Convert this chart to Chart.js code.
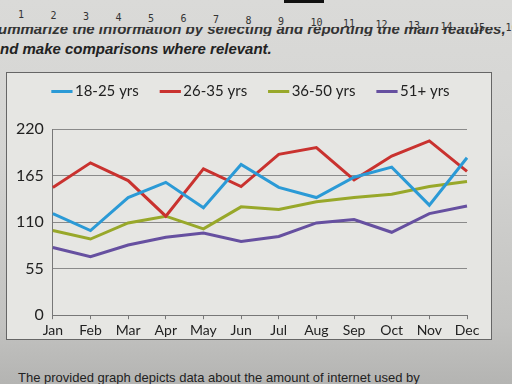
<!DOCTYPE html>
<html>
<head>
<meta charset="utf-8">
<script src="https://cdn.jsdelivr.net/npm/chart.js@4/dist/chart.umd.min.js"></script>
<style>
  html, body { margin:0; padding:0; }
  body {
    width:512px; height:384px; overflow:hidden; position:relative;
    background: linear-gradient(180deg, #dadad8 0%, #d4d4d2 40%, #c2c2c0 85%, #b4b4b2 100%);
    font-family: "Liberation Sans", Arial, sans-serif;
  }
  #ruler { position:absolute; left:0; top:6px; width:512px; height:18px; }
  #ruler span { position:absolute; font-size:10px; color:#333; font-family:"DejaVu Sans Mono", monospace; }
  #topbar { position:absolute; left:284px; top:0; width:40px; height:3px; background:#111; }
  .txt { position:absolute; font-weight:bold; font-style:italic; color:#222; white-space:nowrap; }
  #cut { position:absolute; left:0; top:27px; width:512px; height:9px; overflow:hidden; }
  #box {
    position:absolute; left:6px; top:72px; width:484px; height:266px;
    background:#e6e6e3; border:1px solid #666;
  }
  #c { position:absolute; left:0; top:0; }
  #bottom { position:absolute; left:18px; top:370px; font-size:13px; color:#222; white-space:nowrap; }
</style>
</head>
<body>
<div id="topbar"></div>
<div id="ruler"></div>
<div id="cut"><div class="txt" style="left:-2px; top:-7px; font-size:15px; color:#333;">ummarize the information by selecting and reporting the main features,</div></div>
<div class="txt" style="left:0px; top:40px; font-size:15px;">nd make comparisons where relevant.</div>
<div id="box"><canvas id="c" width="484" height="271"></canvas></div>
<div id="bottom">The provided graph depicts data about the amount of internet used by</div>
<script>
// ---- data ----
const months = ['Jan','Feb','Mar','Apr','May','Jun','Jul','Aug','Sep','Oct','Nov','Dec'];
const s18_25 = [120, 100, 139, 157, 127, 178, 151, 139, 163, 175, 130, 186];
const s26_35 = [151, 180, 159, 117, 173, 152, 190, 198, 160, 188, 206, 170];
const s36_50 = [100,  90, 109, 117, 102, 128, 125, 134, 139, 143, 152, 158];
const s51    = [ 80,  69,  83,  92,  97,  87,  93, 109, 113,  98, 120, 129];
const yTicks = [0, 55, 110, 165, 220];

// ruler numbers
const ruler = document.getElementById('ruler');
for (let i = 1; i <= 16; i++) {
  const s = document.createElement('span');
  s.textContent = i;
  s.style.left = (18 + (i - 1) * 32.5) + 'px';
  s.style.top = (2 + i * 0.9) + 'px';
  ruler.appendChild(s);
}

const mk = (label, data, color) => ({
  label, data, borderColor: color, backgroundColor: color,
  borderWidth: 3, pointRadius: 0, tension: 0, fill: false
});

// legend: push it up/right and leave a gap above the plot
const legendShift = {
  id: 'legendShift',
  beforeInit(chart) {
    const fit = chart.legend.fit;
    chart.legend.fit = function () { fit.bind(this)(); this.height += 3; };
  },
  afterLayout(chart) {
    const lg = chart.legend;
    lg.left += 16; lg.right += 16;
    lg.top -= 17; lg.bottom -= 17;
  }
};

const font = 'Lato, "Open Sans", sans-serif';

new Chart(document.getElementById('c'), {
  type: 'line',
  data: {
    labels: months,
    datasets: [
      mk('18-25 yrs', s18_25, '#2b9ad6'),
      mk('26-35 yrs', s26_35, '#c9322f'),
      mk('36-50 yrs', s36_50, '#98a82a'),
      mk('51+ yrs',   s51,    '#6650a0'),
    ]
  },
  plugins: [legendShift],
  options: {
    responsive: false,
    animation: false,
    layout: { padding: { left: 0, right: 24, top: 2, bottom: 2 } },
    plugins: {
      legend: {
        position: 'top',
        labels: {
          usePointStyle: true, pointStyle: 'line', boxWidth: 11,
          padding: 26, color: '#222',
          font: { family: font, size: 15 }
        }
      },
      tooltip: { enabled: false }
    },
    scales: {
      x: {
        offset: false,
        grid: { display: true, drawOnChartArea: false, tickLength: 4, color: '#777' },
        border: { color: '#777' },
        ticks: { color: '#222', padding: 3, font: { family: font, size: 14 } }
      },
      y: {
        min: 0, max: 220,
        afterBuildTicks: (ax) => { ax.ticks = yTicks.map(v => ({ value: v })); },
        grid: { color: '#8a8a8a', drawTicks: false },
        border: { color: '#777' },
        ticks: { color: '#222', padding: 9, font: { family: font, size: 16 } }
      }
    }
  }
});
</script>
</body>
</html>
